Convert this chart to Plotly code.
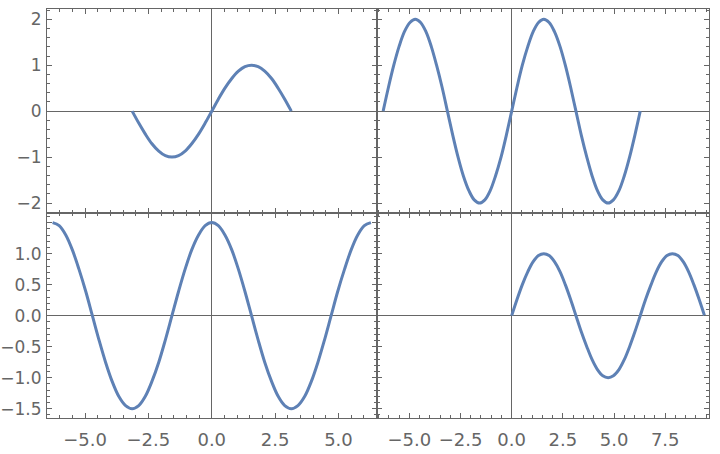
import plotly.graph_objects as go
from plotly.subplots import make_subplots

# values (four panels)
x_tl = [-3.14, -2.88, -2.62, -2.36, -2.09, -1.83, -1.57, -1.31, -1.05, -0.79, -0.52, -0.26, 0,
        0.26, 0.52, 0.79, 1.05, 1.31, 1.57, 1.83, 2.09, 2.36, 2.62, 2.88, 3.14]
y_tl = [0, -0.26, -0.5, -0.71, -0.87, -0.97, -1.0, -0.97, -0.87, -0.71, -0.5, -0.26, 0,
        0.26, 0.5, 0.71, 0.87, 0.97, 1.0, 0.97, 0.87, 0.71, 0.5, 0.26, 0]

x_tr = [-6.28, -6.02, -5.76, -5.50, -5.24, -4.97, -4.71, -4.45, -4.19, -3.93, -3.67, -3.40,
        -3.14, -2.88, -2.62, -2.36, -2.09, -1.83, -1.57, -1.31, -1.05, -0.79, -0.52, -0.26, 0,
        0.26, 0.52, 0.79, 1.05, 1.31, 1.57, 1.83, 2.09, 2.36, 2.62, 2.88, 3.14,
        3.40, 3.67, 3.93, 4.19, 4.45, 4.71, 4.97, 5.24, 5.50, 5.76, 6.02, 6.28]
y_tr = [0, 0.52, 1.0, 1.41, 1.73, 1.93, 2.0, 1.93, 1.73, 1.41, 1.0, 0.52,
        0, -0.52, -1.0, -1.41, -1.73, -1.93, -2.0, -1.93, -1.73, -1.41, -1.0, -0.52, 0,
        0.52, 1.0, 1.41, 1.73, 1.93, 2.0, 1.93, 1.73, 1.41, 1.0, 0.52, 0,
        -0.52, -1.0, -1.41, -1.73, -1.93, -2.0, -1.93, -1.73, -1.41, -1.0, -0.52, 0]

x_bl = [-6.28, -6.02, -5.76, -5.50, -5.24, -4.97, -4.71, -4.45, -4.19, -3.93, -3.67, -3.40,
        -3.14, -2.88, -2.62, -2.36, -2.09, -1.83, -1.57, -1.31, -1.05, -0.79, -0.52, -0.26, 0,
        0.26, 0.52, 0.79, 1.05, 1.31, 1.57, 1.83, 2.09, 2.36, 2.62, 2.88, 3.14,
        3.40, 3.67, 3.93, 4.19, 4.45, 4.71, 4.97, 5.24, 5.50, 5.76, 6.02, 6.28]
y_bl = [1.5, 1.45, 1.30, 1.06, 0.75, 0.39, 0, -0.39, -0.75, -1.06, -1.30, -1.45,
        -1.5, -1.45, -1.30, -1.06, -0.75, -0.39, 0, 0.39, 0.75, 1.06, 1.30, 1.45, 1.5,
        1.45, 1.30, 1.06, 0.75, 0.39, 0, -0.39, -0.75, -1.06, -1.30, -1.45, -1.5,
        -1.45, -1.30, -1.06, -0.75, -0.39, 0, 0.39, 0.75, 1.06, 1.30, 1.45, 1.5]

x_br = [0, 0.26, 0.52, 0.79, 1.05, 1.31, 1.57, 1.83, 2.09, 2.36, 2.62, 2.88, 3.14,
        3.40, 3.67, 3.93, 4.19, 4.45, 4.71, 4.97, 5.24, 5.50, 5.76, 6.02, 6.28,
        6.54, 6.81, 7.07, 7.33, 7.59, 7.85, 8.12, 8.38, 8.64, 8.90, 9.16, 9.42]
y_br = [0, 0.26, 0.5, 0.71, 0.87, 0.97, 1.0, 0.97, 0.87, 0.71, 0.5, 0.26, 0,
        -0.26, -0.5, -0.71, -0.87, -0.97, -1.0, -0.97, -0.87, -0.71, -0.5, -0.26, 0,
        0.26, 0.5, 0.71, 0.87, 0.97, 1.0, 0.97, 0.87, 0.71, 0.5, 0.26, 0]

top_yticks = [-2, -1, 0, 1, 2]
bot_yticks = [-1.5, -1.0, -0.5, 0.0, 0.5, 1.0, 1.5]
bot_ytext = ["−1.5", "−1.0", "−0.5", "0.0", "0.5", "1.0", ""]

blue = "#5e81b5"
grey = "#666666"

W, H = 720, 454

fig = make_subplots(rows=2, cols=2, shared_xaxes=True, shared_yaxes=True,
                    horizontal_spacing=0, vertical_spacing=0)

for xs, ys, r, c in [(x_tl, y_tl, 1, 1), (x_tr, y_tr, 1, 2), (x_bl, y_bl, 2, 1), (x_br, y_br, 2, 2)]:
    fig.add_trace(go.Scatter(x=xs, y=ys, mode="lines", line=dict(color=blue, width=3, shape="spline"),
                             showlegend=False, hoverinfo="skip"), row=r, col=c)

frame = dict(showline=True, linecolor=grey, linewidth=1, mirror="allticks", ticks="inside",
             tickcolor=grey, ticklen=5, showgrid=False, zeroline=True, zerolinecolor=grey,
             zerolinewidth=1, automargin=False)

fig.update_xaxes(**frame, dtick=2.5, tickformat=".1f", ticklabelstandoff=5,
                 tickfont=dict(family="DejaVu Sans", size=18, color=grey),
                 minor=dict(dtick=0.5, ticks="inside", ticklen=3, tickcolor=grey))
fig.update_xaxes(range=[-6.5, 6.52], domain=[47 / W, 377 / W], col=1)
fig.update_xaxes(range=[-6.58, 9.64], domain=[377 / W, 709 / W], col=2)

fig.update_yaxes(**frame, ticklabelstandoff=1,
                 tickfont=dict(family="DejaVu Sans", size=17, color=grey))
fig.update_yaxes(range=[-2.21, 2.23], tickvals=top_yticks, domain=[(H - 212.7) / H, (H - 8.7) / H],
                 minor=dict(dtick=0.2, ticks="inside", ticklen=3, tickcolor=grey), row=1)
fig.update_yaxes(range=[-1.655, 1.66], tickvals=bot_yticks, ticktext=bot_ytext,
                 domain=[(H - 418.3) / H, (H - 212.7) / H],
                 minor=dict(dtick=0.1, ticks="inside", ticklen=3, tickcolor=grey), row=2)

fig.update_layout(width=W, height=H, margin=dict(l=0, r=0, t=0, b=0),
                  plot_bgcolor="white", paper_bgcolor="white")

# drop the page's default 8px body margin so the figure fills the window
fig.write_html("out.html", config={"displayModeBar": False},
               post_script="document.body.style.margin = '0';")
